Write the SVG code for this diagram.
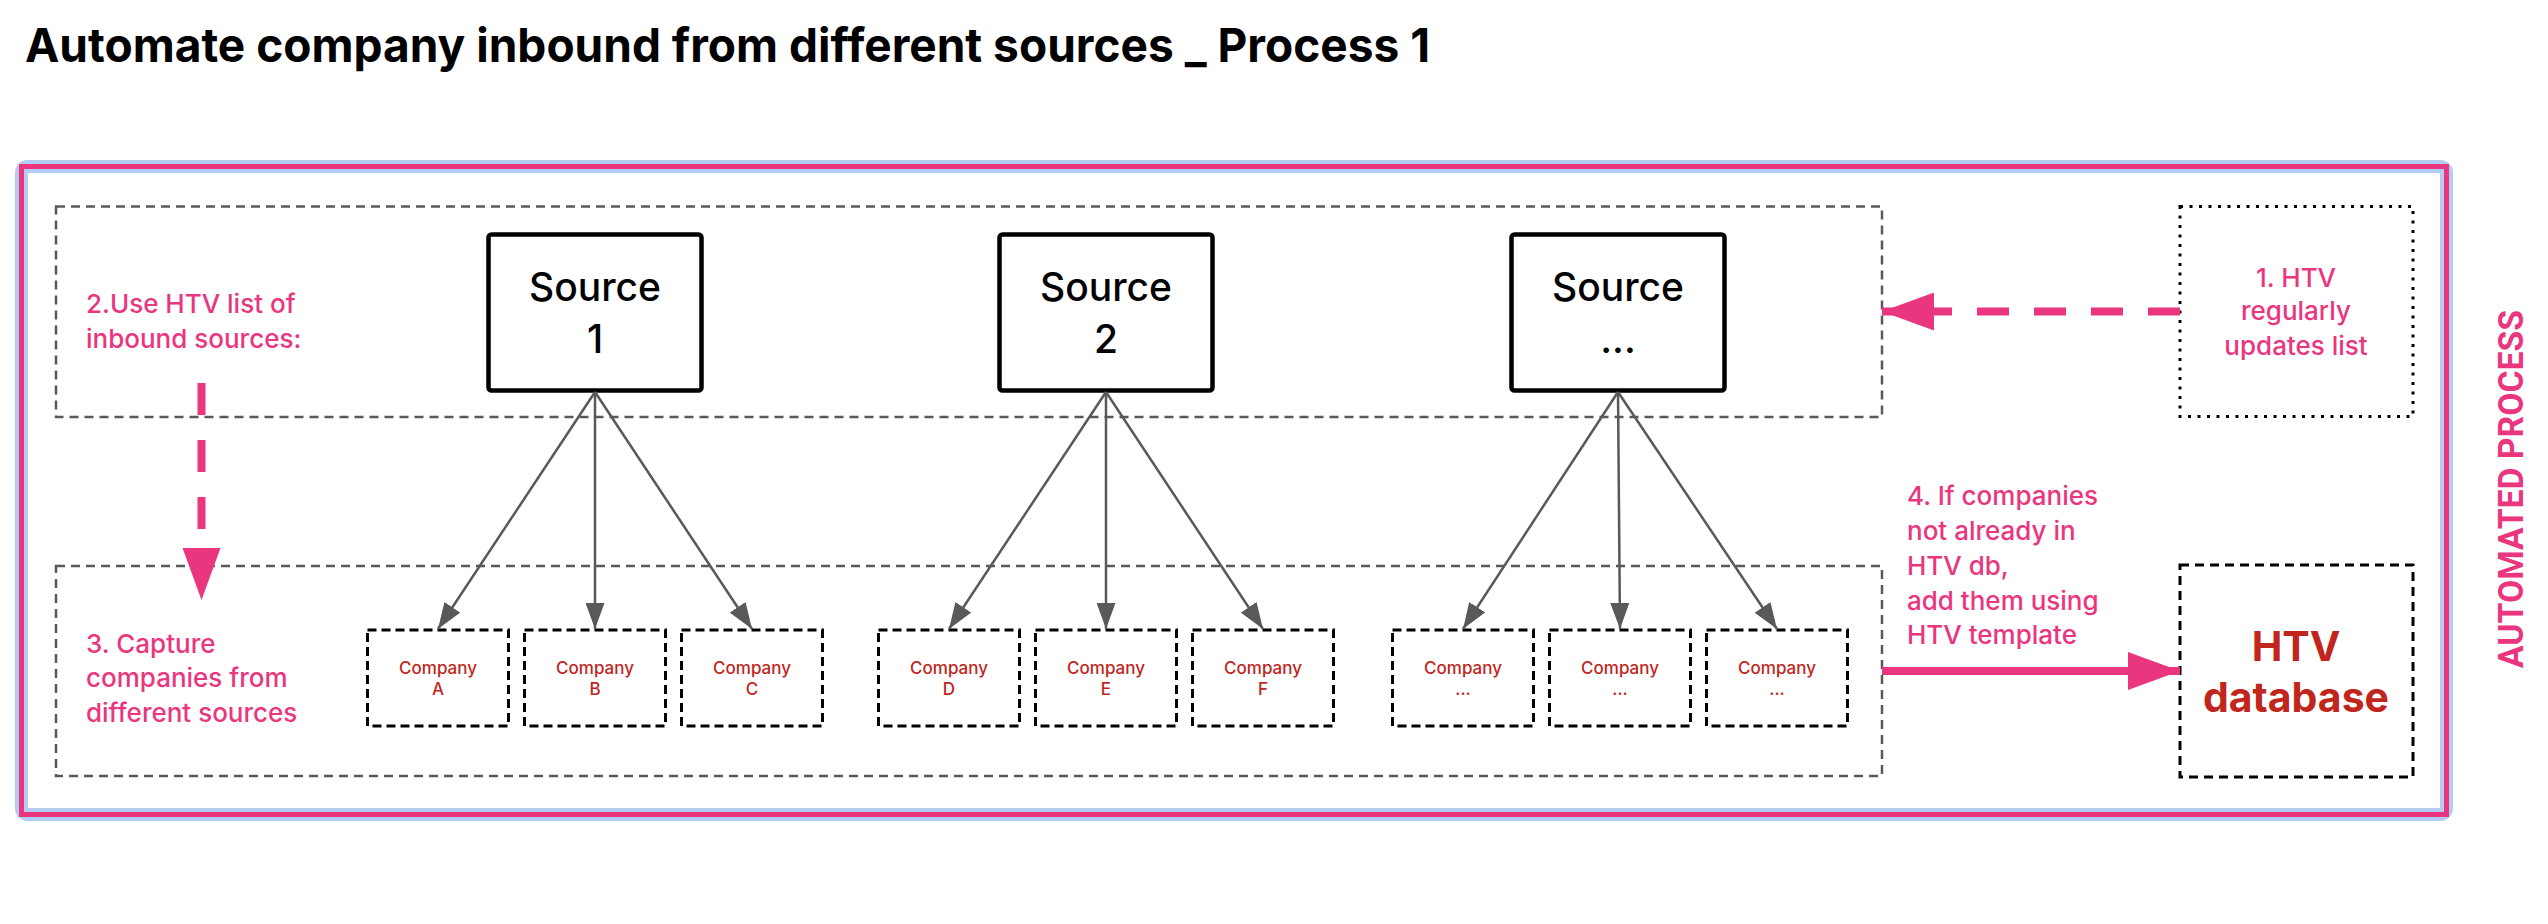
<svg xmlns="http://www.w3.org/2000/svg" width="2548" height="924" viewBox="0 0 2548 924">
<defs>
<style>
.title{font-family:Inter,"Noto Sans","Liberation Sans",sans-serif;font-weight:700;font-size:47px;fill:#000}
.lbl{font-family:Inter,"Noto Sans","Liberation Sans",sans-serif;font-weight:500;font-size:26px;fill:#ea367f}
.src{font-family:Inter,"Noto Sans","Liberation Sans",sans-serif;font-weight:500;font-size:39px;fill:#000;text-anchor:middle}
.co{font-family:Inter,"Noto Sans","Liberation Sans",sans-serif;font-weight:500;font-size:17px;fill:#c0261c;text-anchor:middle}
.db{font-family:Inter,"Noto Sans","Liberation Sans",sans-serif;font-weight:700;font-size:41px;fill:#c0261c;text-anchor:middle}
.vert{font-family:Roboto,"Liberation Sans",sans-serif;font-weight:700;font-size:35px;fill:#ea367f;text-anchor:middle}
.grp{fill:none;stroke:#595959;stroke-width:2.5;stroke-dasharray:9 6}
.srcbox{fill:#fff;stroke:#000;stroke-width:4.5}
.cobox{fill:#fff;stroke:#000;stroke-width:3;stroke-dasharray:9 5}
.gline{fill:none;stroke:#595959;stroke-width:2.5}
.pline{fill:none;stroke:#ea367f;stroke-width:8}
</style>
<marker id="ga" viewBox="0 0 26 19" markerWidth="26" markerHeight="19" refX="26" refY="9.5" orient="auto" markerUnits="userSpaceOnUse">
<path d="M0,0 L26,9.5 L0,19 z" fill="#595959"/>
</marker>
<marker id="pa" viewBox="0 0 52 38" markerWidth="52" markerHeight="38" refX="52" refY="19" orient="auto" markerUnits="userSpaceOnUse">
<path d="M0,0 L52,19 L0,38 z" fill="#ea367f"/>
</marker>
</defs>
<rect width="2548" height="924" fill="#fff"/>
<text class="title" x="25" y="62" textLength="1405" lengthAdjust="spacingAndGlyphs">Automate company inbound from different sources _ Process 1</text>

<g id="frame">
<rect x="21.5" y="166.5" width="2425" height="648" rx="6" fill="#fff" stroke="#b4cbf2" stroke-width="13"/>
<rect x="21.5" y="166.5" width="2425" height="648" fill="none" stroke="#ea367f" stroke-width="5"/>
</g>
<g id="automated-label"><text class="vert" transform="translate(2523,489) rotate(-90)" textLength="358" lengthAdjust="spacingAndGlyphs">AUTOMATED PROCESS</text></g>

<g id="sources-group"><rect class="grp" x="56" y="206.5" width="1826" height="210.5"/></g>
<g id="companies-group"><rect class="grp" x="56" y="566" width="1826" height="210"/></g>

<g id="step2"><text class="lbl" x="86" y="313">2.Use HTV list of</text><text class="lbl" x="86" y="348">inbound sources:</text></g>
<g id="step3"><text class="lbl" x="86" y="653">3. Capture</text><text class="lbl" x="86" y="687">companies from</text><text class="lbl" x="86" y="722">different sources</text></g>
<g id="step4"><text class="lbl" x="1907" y="505">4. If companies</text><text class="lbl" x="1907" y="540">not already in</text><text class="lbl" x="1907" y="575">HTV db,</text><text class="lbl" x="1907" y="610">add them using</text><text class="lbl" x="1907" y="644">HTV template</text></g>

<g id="htv-updates">
<rect x="2180" y="206.5" width="233" height="210" fill="none" stroke="#000" stroke-width="3" stroke-dasharray="3 6.5"/>
<text class="lbl" text-anchor="middle" x="2296" y="287">1. HTV</text>
<text class="lbl" text-anchor="middle" x="2296" y="320">regularly</text>
<text class="lbl" text-anchor="middle" x="2296" y="355">updates list</text>
</g>

<g id="htv-database">
<rect x="2180" y="565" width="233" height="212" fill="#fff" stroke="#000" stroke-width="3" stroke-dasharray="9 6"/>
<text class="db" x="2296" y="661">HTV</text>
<text class="db" x="2296" y="712">database</text>
</g>

<g id="source-1"><rect class="srcbox" x="488.5" y="234.5" width="213" height="156" rx="3"/><text class="src" x="595" y="301">Source</text><text class="src" x="595" y="353">1</text></g>
<g id="source-2"><rect class="srcbox" x="999.5" y="234.5" width="213" height="156" rx="3"/><text class="src" x="1106" y="301">Source</text><text class="src" x="1106" y="353">2</text></g>
<g id="source-3"><rect class="srcbox" x="1511.5" y="234.5" width="213" height="156" rx="3"/><text class="src" x="1618" y="301">Source</text><text class="src" x="1618" y="353">...</text></g>

<g id="company-a"><rect class="cobox" x="367.5" y="630" width="141" height="96"/><text class="co" x="438" y="674">Company</text><text class="co" x="438" y="695">A</text></g>
<g id="company-b"><rect class="cobox" x="524.5" y="630" width="141" height="96"/><text class="co" x="595" y="674">Company</text><text class="co" x="595" y="695">B</text></g>
<g id="company-c"><rect class="cobox" x="681.5" y="630" width="141" height="96"/><text class="co" x="752" y="674">Company</text><text class="co" x="752" y="695">C</text></g>
<g id="company-d"><rect class="cobox" x="878.5" y="630" width="141" height="96"/><text class="co" x="949" y="674">Company</text><text class="co" x="949" y="695">D</text></g>
<g id="company-e"><rect class="cobox" x="1035.5" y="630" width="141" height="96"/><text class="co" x="1106" y="674">Company</text><text class="co" x="1106" y="695">E</text></g>
<g id="company-f"><rect class="cobox" x="1192.5" y="630" width="141" height="96"/><text class="co" x="1263" y="674">Company</text><text class="co" x="1263" y="695">F</text></g>
<g id="company-g"><rect class="cobox" x="1392.5" y="630" width="141" height="96"/><text class="co" x="1463" y="674">Company</text><text class="co" x="1463" y="695">...</text></g>
<g id="company-h"><rect class="cobox" x="1549.5" y="630" width="141" height="96"/><text class="co" x="1620" y="674">Company</text><text class="co" x="1620" y="695">...</text></g>
<g id="company-i"><rect class="cobox" x="1706.5" y="630" width="141" height="96"/><text class="co" x="1777" y="674">Company</text><text class="co" x="1777" y="695">...</text></g>

<g id="connectors">
<path class="gline" marker-end="url(#ga)" d="M595,392 L438,629"/>
<path class="gline" marker-end="url(#ga)" d="M595,392 L595,629"/>
<path class="gline" marker-end="url(#ga)" d="M595,392 L752,629"/>
<path class="gline" marker-end="url(#ga)" d="M1106,392 L949,629"/>
<path class="gline" marker-end="url(#ga)" d="M1106,392 L1106,629"/>
<path class="gline" marker-end="url(#ga)" d="M1106,392 L1263,629"/>
<path class="gline" marker-end="url(#ga)" d="M1618,392 L1463,629"/>
<path class="gline" marker-end="url(#ga)" d="M1618,392 L1620,629"/>
<path class="gline" marker-end="url(#ga)" d="M1618,392 L1777,629"/>
<path class="pline" stroke-dasharray="32 25" marker-end="url(#pa)" d="M201.5,383 L201.5,600"/>
<path class="pline" stroke-dasharray="32 25" marker-end="url(#pa)" d="M2180,311.5 L1882,311.5"/>
<path class="pline" marker-end="url(#pa)" d="M1882,671 L2180,671"/>
</g>
</svg>
